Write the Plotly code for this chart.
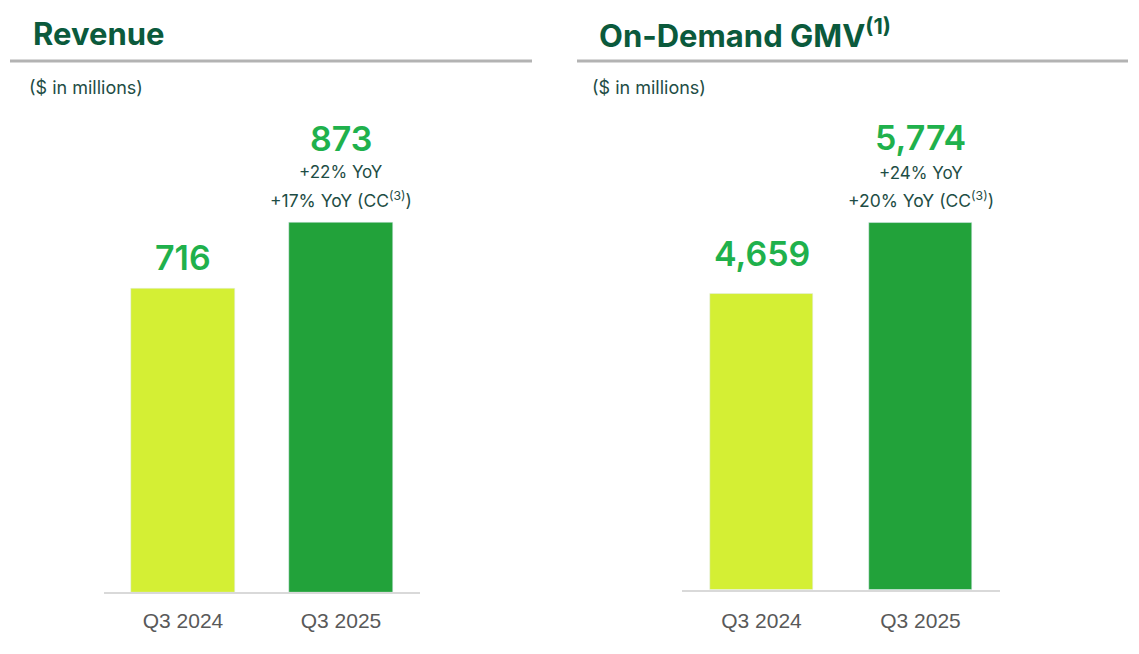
import plotly.graph_objects as go

W, H = 1139, 654

categories = ["Q3 2024", "Q3 2025"]
revenue = [716, 873]
gmv = [4659, 5774]
revenue_labels = ["716", "873"]
gmv_labels = ["4,659", "5,774"]
revenue_yoy = ["+22% YoY", "+17% YoY (CC<sup>(3)</sup>)"]
gmv_yoy = ["+24% YoY", "+20% YoY (CC<sup>(3)</sup>)"]
bar_colors = ["#d4ef34", "#22a23a"]

DARK = "#0b5a3c"
GREEN = "#1fb14c"
TXT = "#1e4d45"

def px(x):
    return x / W

def py(y):
    return 1 - y / H

fig = go.Figure()
fig.add_trace(go.Bar(x=categories, y=revenue, marker_color=bar_colors, width=0.652,
                     xaxis="x", yaxis="y", showlegend=False, hoverinfo="skip"))
fig.add_trace(go.Bar(x=categories, y=gmv, marker_color=bar_colors, width=0.648,
                     xaxis="x2", yaxis="y2", showlegend=False, hoverinfo="skip"))

L_base, L_scale, L_max = 592, 0.4235, 1000
R_base, R_scale, R_max = 590, 0.0636, 7000

tickfont = dict(family="Liberation Sans, Arial", size=21, color="#595959")
axis_common = dict(showgrid=False, zeroline=False, showline=True, linecolor="#d9d9d9",
                   linewidth=2, ticks="", tickfont=tickfont, fixedrange=True)
fig.update_layout(
    width=W, height=H, margin=dict(l=0, r=0, t=0, b=0),
    paper_bgcolor="white", plot_bgcolor="white",
    xaxis=dict(domain=[px(104), px(420)], anchor="y", ticklabelstandoff=9, **axis_common),
    xaxis2=dict(domain=[px(682), px(1000)], anchor="y2", ticklabelstandoff=11, **axis_common),
    yaxis=dict(domain=[py(L_base), py(L_base - L_max * L_scale)], range=[0, L_max],
               visible=False, fixedrange=True),
    yaxis2=dict(domain=[py(R_base), py(R_base - R_max * R_scale)], range=[0, R_max],
                visible=False, fixedrange=True),
    bargap=0,
)

numfont = dict(family="Inter, Roboto", size=34, color=GREEN, weight=600)
yoyfont = dict(family="Inter, Roboto", size=17, color=TXT)
yoyfont2 = dict(family="Inter, Roboto", size=17.5, color=TXT)

ann = []
for xr, yr, vals, labs, shifts in [
    ("x", "y", revenue, revenue_labels, [31, 84]),
    ("x2", "y2", gmv, gmv_labels, [40, 85]),
]:
    for c, v, l, s in zip(categories, vals, labs, shifts):
        ann.append(dict(x=c, y=v, xref=xr, yref=yr, text=l, showarrow=False,
                        yanchor="middle", yshift=s, font=numfont))
for xr, yr, vals, yoy in [("x", "y", revenue, revenue_yoy), ("x2", "y2", gmv, gmv_yoy)]:
    ann.append(dict(x=categories[1], y=vals[1], xref=xr, yref=yr, text=yoy[0], showarrow=False,
                    yanchor="middle", yshift=50, font=yoyfont))
    ann.append(dict(x=categories[1], y=vals[1], xref=xr, yref=yr, text=yoy[1], showarrow=False,
                    yanchor="middle", yshift=23, font=yoyfont2))

titlefont = dict(family="Inter, Roboto", size=31, color=DARK, weight=700)
ann.append(dict(x=px(31), y=py(34), xref="paper", yref="paper", text="Revenue",
                showarrow=False, xanchor="left", yanchor="middle", font=titlefont))
ann.append(dict(x=px(597), y=py(34), xref="paper", yref="paper",
                text="On-Demand GMV<sup>(1)</sup>",
                showarrow=False, xanchor="left", yanchor="middle", font=titlefont))
subfont = dict(family="Inter, Roboto", size=18, color=TXT)
ann.append(dict(x=px(27), y=py(88), xref="paper", yref="paper", text="($ in millions)",
                showarrow=False, xanchor="left", yanchor="middle", font=subfont))
ann.append(dict(x=px(590), y=py(88), xref="paper", yref="paper", text="($ in millions)",
                showarrow=False, xanchor="left", yanchor="middle", font=subfont))
fig.update_layout(annotations=ann)

fig.update_layout(shapes=[
    dict(type="line", xref="paper", yref="paper", x0=px(10), x1=px(532), y0=py(61), y1=py(61),
         line=dict(color="#b3b3b3", width=3)),
    dict(type="line", xref="paper", yref="paper", x0=px(577), x1=px(1128), y0=py(61), y1=py(61),
         line=dict(color="#b3b3b3", width=3)),
])

fig.write_html("out.html")
